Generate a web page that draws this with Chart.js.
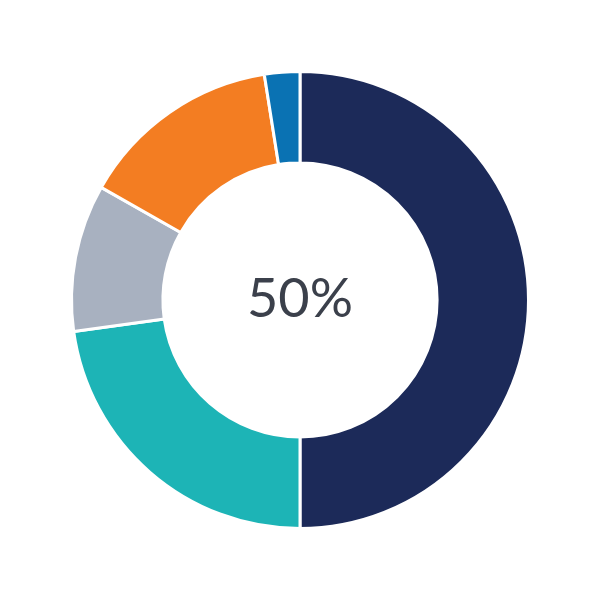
<!DOCTYPE html>
<html>
<head>
<meta charset="utf-8">
<script src="https://cdn.jsdelivr.net/npm/chart.js@4"></script>
<style>
  html, body { margin: 0; padding: 0; background: #fff; }
  #wrap { width: 600px; height: 600px; }
</style>
</head>
<body>
<div id="wrap"><canvas id="donutChart" width="600" height="600"></canvas></div>
<script>
const labels = ["Navy", "Teal", "Gray", "Orange", "Blue"];
const values = [50, 22.8, 10.4, 14.3, 2.5];
const colors = ["#1c2a59", "#1db4b6", "#a8b1c0", "#f37d22", "#0a72b3"];
const centerText = "50%";

const centerLabel = {
  id: "centerLabel",
  afterDraw(chart) {
    const { ctx, chartArea } = chart;
    const x = (chartArea.left + chartArea.right) / 2;
    const y = (chartArea.top + chartArea.bottom) / 2;
    ctx.save();
    ctx.font = "54px Lato";
    ctx.fillStyle = "#3b404b";
    ctx.textAlign = "center";
    ctx.textBaseline = "middle";
    ctx.fillText(centerText, x, y);
    ctx.restore();
  },
};

document.addEventListener("DOMContentLoaded", () => {
  const ctx = document.getElementById("donutChart").getContext("2d");
  new Chart(ctx, {
    type: "doughnut",
    data: {
      labels: labels,
      datasets: [
        {
          data: values,
          backgroundColor: colors,
          borderColor: "#ffffff",
          borderWidth: 3,
        },
      ],
    },
    options: {
      responsive: false,
      animation: false,
      cutout: "60%",
      layout: { padding: 70 },
      plugins: {
        legend: { display: false },
        tooltip: { enabled: false },
      },
    },
    plugins: [centerLabel],
  });
});
</script>
</body>
</html>
